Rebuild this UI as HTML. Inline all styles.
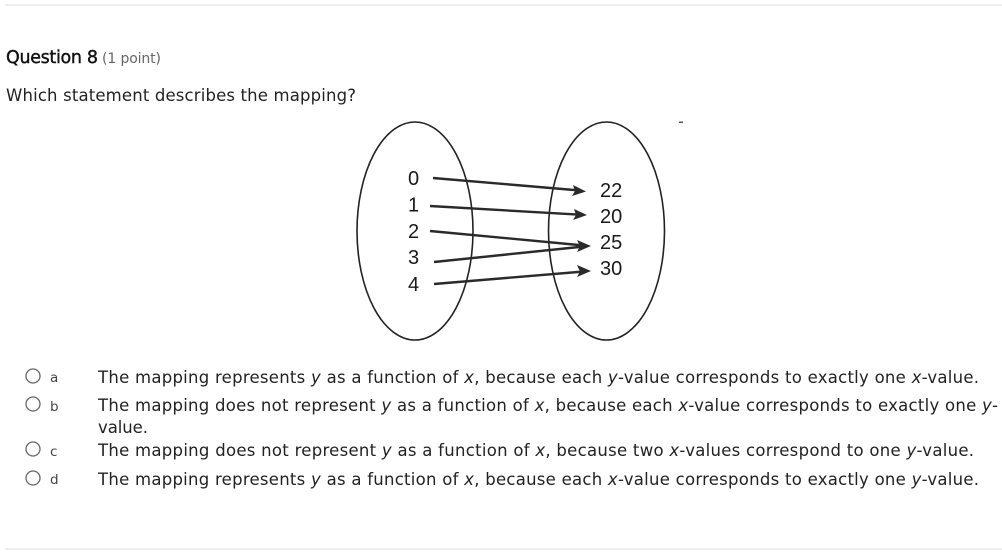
<!DOCTYPE html>
<html>
<head>
<meta charset="utf-8">
<style>
html,body{margin:0;padding:0;background:#fff;width:1002px;height:555px;overflow:hidden}
svg{display:block}
.t{font-family:"DejaVu Sans",sans-serif;font-size:16.5px;fill:#222}
.n{font-family:"Liberation Sans",sans-serif;font-size:20px;fill:#1a1a1a}
.l{font-family:"DejaVu Sans",sans-serif;font-size:13.5px;fill:#444}
.i{font-style:italic}
</style>
</head>
<body>
<svg width="1002" height="555" viewBox="0 0 1002 555" xmlns="http://www.w3.org/2000/svg">
<rect x="5" y="4" width="997" height="2" fill="#eeeeee"/>
<rect x="5" y="548" width="997" height="2" fill="#eeeeee"/>

<text x="6" y="63" font-family="'DejaVu Sans',sans-serif" font-size="17.5px" fill="#111" stroke="#111" stroke-width="0.4" textLength="92">Question 8</text>
<text x="102" y="63" font-family="'DejaVu Sans',sans-serif" font-size="14px" fill="#666" textLength="59">(1 point)</text>
<text class="t" x="6" y="101" textLength="350">Which statement describes the mapping?</text>

<ellipse cx="415" cy="231" rx="58" ry="109" fill="none" stroke="#222" stroke-width="1.600"/>
<ellipse cx="606.5" cy="231" rx="58" ry="109" fill="none" stroke="#222" stroke-width="1.600"/>
<rect x="679" y="121.500" width="4" height="1.500" fill="#555"/>

<g stroke="#2a2a2a" stroke-width="2.400" fill="none">
<line x1="433" y1="178" x2="580" y2="190.500"/>
<line x1="430" y1="206" x2="580" y2="214.700"/>
<line x1="430" y1="231" x2="584" y2="245.500"/>
<line x1="434" y1="262" x2="584" y2="246.500"/>
<line x1="434" y1="284" x2="584" y2="271.500"/>
</g>
<g fill="#2a2a2a" stroke="none">
<polygon points="586,191.500 572,196 575,191 573,185"/>
<polygon points="587,215 573,220 576,215 574,209"/>
<polygon points="591,246 577,252 580,246 577,240"/>
<polygon points="591,271 577,277 580,271.500 577,265"/>
</g>

<text class="n" x="408" y="185">0</text>
<text class="n" x="408" y="211.500">1</text>
<text class="n" x="408" y="238">2</text>
<text class="n" x="408" y="264">3</text>
<text class="n" x="408" y="291">4</text>
<text class="n" x="600" y="197">22</text>
<text class="n" x="600" y="223">20</text>
<text class="n" x="600" y="249">25</text>
<text class="n" x="600" y="275">30</text>

<g fill="none" stroke="#666" stroke-width="1.300">
<circle cx="33" cy="376" r="7"/>
<circle cx="33" cy="404" r="7"/>
<circle cx="33" cy="449" r="7"/>
<circle cx="33" cy="478" r="7"/>
</g>
<text class="l" x="50" y="382">a</text>
<text class="l" x="50" y="411">b</text>
<text class="l" x="50" y="456">c</text>
<text class="l" x="50" y="484">d</text>

<text class="t" x="98" y="383" textLength="881">The mapping represents <tspan class="i">y</tspan> as a function of <tspan class="i">x</tspan>, because each <tspan class="i">y</tspan>-value corresponds to exactly one <tspan class="i">x</tspan>-value.</text>
<text class="t" x="98" y="411" textLength="900">The mapping does not represent <tspan class="i">y</tspan> as a function of <tspan class="i">x</tspan>, because each <tspan class="i">x</tspan>-value corresponds to exactly one <tspan class="i">y</tspan>-</text>
<text class="t" x="98" y="433" textLength="50">value.</text>
<text class="t" x="98" y="456" textLength="876">The mapping does not represent <tspan class="i">y</tspan> as a function of <tspan class="i">x</tspan>, because two <tspan class="i">x</tspan>-values correspond to one <tspan class="i">y</tspan>-value.</text>
<text class="t" x="98" y="485" textLength="881">The mapping represents <tspan class="i">y</tspan> as a function of <tspan class="i">x</tspan>, because each <tspan class="i">x</tspan>-value corresponds to exactly one <tspan class="i">y</tspan>-value.</text>
</svg>
</body>
</html>
